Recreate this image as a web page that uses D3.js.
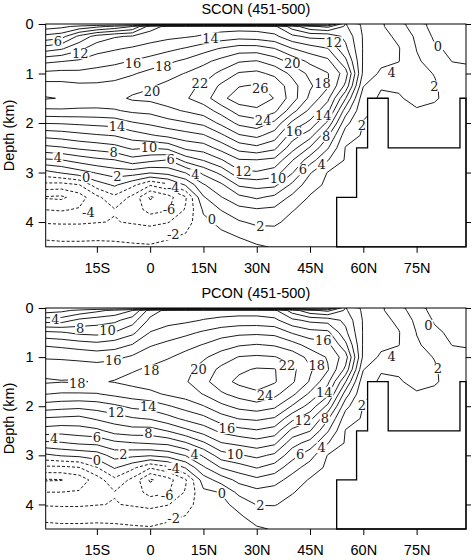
<!DOCTYPE html>
<meta charset="utf-8">
<script src="https://d3js.org/d3.v7.min.js"></script>
<style>
  body { margin: 0; background: #fff; }
  text { font-family: "Liberation Sans", Arial, sans-serif; }
</style>
<div id="chart"></div>
<script>

// grid of the streamfunction (Sv): one column per latitude, one value per depth
var lats = [-30, -25, -20, -15, -10, -5, 0, 5, 10, 15, 20, 25, 30, 35, 40, 45, 50, 55, 60, 65, 70, 75, 80, 85, 90];
var depths = [0, 0.05, 0.25, 0.5, 0.75, 1, 1.25, 1.5, 1.75, 2, 2.25, 2.5, 2.75, 3, 3.25, 3.5, 3.75, 4, 4.25, 4.5];
var levels = [-8, -6, -4, -2, 0, 2, 4, 6, 8, 10, 12, 14, 16, 18, 20, 22, 24, 26];

var sconCols = [
  [0, 1.0, 4.5, 9.0, 13.5, 16.5, 18.8, 20.2, 17.6, 14.1, 10.6, 7.4, 3.6, -0.8, -4.6, -8.2, -6.0, -4.2, -2.4, -1.5],
  [0, 1.5, 5.2, 9.8, 13.9, 16.7, 18.7, 19.9, 17.7, 14.2, 10.9, 7.8, 3.9, 0.2, -4.8, -8.4, -6.2, -4.3, -2.5, -1.6],
  [0, 2.5, 8.5, 11.5, 14.3, 16.6, 18.4, 19.6, 17.6, 14.4, 11.4, 8.4, 4.8, 1.2, -4.1, -7.0, -5.8, -4.3, -2.5, -1.6],
  [0, 3.5, 10.8, 13.2, 15.1, 16.8, 18.4, 19.4, 17.6, 14.6, 11.8, 8.8, 5.5, 2.2, -1.0, -4.5, -5.0, -4.1, -2.4, -1.6],
  [0, 4.5, 11.8, 13.8, 15.5, 17.2, 18.6, 19.4, 17.8, 14.8, 12.1, 9.3, 5.9, 3.0, 0.3, -2.5, -4.1, -3.9, -2.5, -1.6],
  [0, 6.0, 12.2, 14.3, 16.1, 17.8, 19.2, 20.3, 18.4, 15.8, 13.0, 10.4, 7.2, 3.0, -1.5, -4.5, -4.8, -4.2, -2.7, -1.7],
  [0, 11.0, 13.1, 14.8, 16.8, 18.6, 19.8, 20.5, 18.6, 16.4, 13.8, 10.1, 6.5, 2.2, -3.8, -8.3, -6.8, -4.6, -2.8, -1.8],
  [0, 12.6, 13.5, 15.5, 17.6, 19.3, 20.5, 21.0, 19.5, 17.2, 14.5, 10.6, 5.9, 2.8, -2.5, -6.8, -6.2, -4.1, -2.4, -1.5],
  [0, 12.8, 13.8, 16.2, 18.4, 20.1, 21.5, 21.8, 20.2, 17.8, 15.2, 12.5, 8.8, 4.1, 0.2, -4.2, -3.8, -2.9, -1.9, -1.2],
  [0, 13.0, 14.2, 17.2, 19.5, 21.0, 22.3, 23.0, 21.0, 18.5, 15.8, 13.0, 10.1, 6.5, 3.8, 1.8, 0.3, -0.5, -0.8, -0.7],
  [0, 13.0, 14.8, 18.2, 20.6, 22.5, 24.4, 25.5, 22.8, 20.5, 17.6, 14.8, 11.8, 8.6, 5.6, 3.9, 2.1, 0.5, -0.3, -0.6],
  [0, 13.0, 15.2, 19.0, 21.8, 24.2, 25.9, 27.0, 25.0, 22.5, 19.8, 16.8, 13.8, 11.5, 8.3, 5.5, 3.4, 1.8, 0.2, -0.6],
  [0, 13.0, 15.0, 19.0, 22.1, 24.5, 26.2, 27.5, 25.5, 23.2, 20.5, 17.5, 13.9, 11.8, 8.7, 6.3, 3.8, 2.4, 1.0, -0.25],
  [0, 12.5, 14.5, 18.1, 21.0, 23.5, 25.5, 25.9, 24.5, 21.5, 19.0, 16.5, 13.5, 11.0, 8.5, 5.5, 3.6, 2.3, 1.4, 0.15],
  [0, 9.0, 12.5, 16.1, 19.3, 21.5, 22.8, 23.0, 20.8, 17.5, 15.0, 12.8, 10.1, 8.2, 5.5, 3.5, 2.1, 1.5, 1.2, 1.0],
  [0, 6.5, 11.5, 15.0, 17.5, 19.5, 20.3, 19.5, 17.5, 15.5, 12.8, 9.8, 6.9, 4.2, 2.8, 1.8, 1.4, 1.2, 1.0, 0.9],
  [0, 5.5, 11.5, 14.1, 16.5, 18.1, 18.3, 16.5, 14.6, 11.5, 8.3, 6.2, 4.1, 1.9, 1.6, 1.4, 1.3, 1.2, 1.1, 1.0],
  [8.1, 8.3, 9.5, 10.5, 12.5, 15.0, 13.5, 10.1, 7.0, 4.6, 2.9, 1.9, 1.8, 1.7, 1.6, 1.5, 1.5, 1.5, 1.5, 1.5],
  [5.5, 5.6, 5.8, 5.8, 5.7, 5.5, 4.1, 2.6, 2.2, 1.95, 1.8, 1.7, 1.7, 1.7, 1.7, 1.7, 1.7, 1.7, 1.7, 1.7],
  [4.3, 4.3, 4.6, 4.8, 4.5, 3.6, 2.1, 1.8, 1.8, 1.8, 1.8, 1.8, 1.8, 1.8, 1.8, 1.8, 1.8, 1.8, 1.8, 1.8],
  [2.6, 2.7, 3.6, 4.1, 4.05, 3.3, 2.15, 1.9, 1.8, 1.7, 1.7, 1.6, 1.6, 1.6, 1.6, 1.6, 1.6, 1.6, 1.6, 1.6],
  [1.0, 1.1, 1.6, 1.95, 2.2, 2.4, 2.4, 2.3, 1.9, 1.7, 1.6, 1.6, 1.6, 1.6, 1.6, 1.6, 1.6, 1.6, 1.6, 1.6],
  [-0.8, -0.8, -0.3, 0.3, 1.4, 1.95, 2.15, 2.1, 1.8, 1.6, 1.5, 1.5, 1.5, 1.5, 1.5, 1.5, 1.5, 1.5, 1.5, 1.5],
  [-0.9, -0.9, -0.7, -0.4, -0.05, 0.8, 1.4, 1.7, 1.7, 1.6, 1.5, 1.5, 1.5, 1.5, 1.5, 1.5, 1.5, 1.5, 1.5, 1.5],
  [-0.9, -0.9, -0.8, -0.5, -0.2, 0.5, 1.2, 1.5, 1.5, 1.5, 1.5, 1.5, 1.5, 1.5, 1.5, 1.5, 1.5, 1.5, 1.5, 1.5]
];

var pconCols = [
  [0, 1.0, 5.0, 10.5, 13.8, 15.8, 17.2, 18.3, 16.1, 13.1, 9.8, 7.1, 3.5, -0.5, -4.5, -8.2, -6.0, -4.2, -2.4, -1.5],
  [0, 1.5, 5.0, 10.2, 13.5, 15.7, 17.2, 18.1, 15.8, 12.8, 9.6, 6.8, 3.8, 0.2, -4.5, -8.1, -6.0, -4.3, -2.5, -1.6],
  [0, 2.5, 6.5, 9.5, 13.1, 15.5, 17.1, 18.2, 15.8, 12.6, 9.4, 7.1, 4.3, 0.5, -4.1, -7.2, -5.8, -4.3, -2.5, -1.6],
  [0, 3.5, 7.1, 9.3, 12.7, 15.3, 16.9, 17.8, 15.9, 12.9, 10.3, 7.5, 4.5, 1.0, -2.1, -5.0, -4.8, -4.1, -2.4, -1.6],
  [0, 4.5, 7.5, 10.1, 13.1, 15.5, 17.3, 18.1, 16.5, 13.6, 11.0, 8.8, 5.5, 2.8, 0.2, -2.5, -4.1, -3.9, -2.5, -1.6],
  [0, 6.0, 9.1, 11.5, 14.1, 16.3, 17.8, 18.6, 17.0, 14.5, 11.8, 9.2, 5.9, 2.5, -1.5, -4.5, -4.8, -4.2, -2.7, -1.7],
  [0, 11.0, 12.5, 14.1, 15.8, 17.2, 18.3, 19.0, 17.5, 14.8, 12.2, 9.1, 6.2, 2.2, -3.8, -8.3, -6.8, -4.6, -2.8, -1.8],
  [0, 12.6, 13.3, 14.9, 16.5, 17.8, 19.1, 19.6, 18.3, 15.8, 13.3, 10.1, 6.5, 2.8, -2.5, -6.8, -6.2, -4.1, -2.4, -1.5],
  [0, 12.8, 13.6, 15.5, 17.3, 18.7, 19.4, 19.8, 18.9, 16.8, 14.5, 11.5, 7.8, 4.1, 0.2, -4.2, -3.8, -2.9, -1.9, -1.2],
  [0, 13.0, 14.1, 16.3, 18.1, 19.7, 20.8, 21.4, 20.1, 17.9, 15.4, 12.9, 9.7, 6.3, 3.7, 1.0, -0.4, -0.8, -0.9, -0.7],
  [0, 13.0, 14.5, 17.1, 19.1, 20.9, 22.5, 23.2, 21.7, 19.5, 17.1, 14.5, 11.9, 9.1, 6.1, 2.9, 0.1, -0.5, -0.6, -0.6],
  [0, 13.0, 14.8, 17.5, 19.8, 22.1, 23.6, 24.5, 22.8, 20.6, 18.1, 15.3, 12.5, 9.8, 7.1, 4.6, 2.6, 0.6, -0.3, -0.6],
  [0, 13.0, 14.8, 17.6, 20.1, 22.3, 24.2, 24.5, 23.8, 21.1, 18.4, 15.8, 13.1, 10.5, 8.1, 5.5, 3.4, 2.1, 0.8, -0.25],
  [0, 12.5, 14.5, 17.4, 19.8, 22.1, 24.1, 24.2, 22.6, 20.4, 17.8, 15.1, 12.4, 9.6, 7.1, 4.8, 3.1, 2.1, 1.1, 0.15],
  [0, 9.0, 12.5, 15.8, 18.8, 21.2, 22.5, 22.3, 20.5, 17.8, 14.6, 11.4, 8.8, 6.8, 4.8, 3.2, 2.1, 1.5, 1.2, 1.0],
  [0, 6.5, 11.5, 14.8, 17.2, 19.4, 20.3, 19.8, 17.6, 15.2, 12.6, 10.1, 7.2, 4.8, 3.1, 1.8, 1.4, 1.2, 1.0, 0.9],
  [0, 5.5, 11.2, 14.5, 16.6, 17.8, 18.2, 16.5, 14.6, 11.5, 8.3, 6.2, 4.1, 1.9, 1.6, 1.4, 1.3, 1.2, 1.1, 1.0],
  [8.1, 8.3, 9.5, 10.5, 12.5, 15.0, 13.5, 10.1, 7.0, 4.6, 2.9, 1.9, 1.8, 1.7, 1.6, 1.5, 1.5, 1.5, 1.5, 1.5],
  [5.5, 5.6, 5.8, 5.8, 5.7, 5.5, 4.1, 2.6, 2.2, 1.95, 1.8, 1.7, 1.7, 1.7, 1.7, 1.7, 1.7, 1.7, 1.7, 1.7],
  [4.3, 4.3, 4.6, 4.8, 4.5, 3.6, 2.1, 1.8, 1.8, 1.8, 1.8, 1.8, 1.8, 1.8, 1.8, 1.8, 1.8, 1.8, 1.8, 1.8],
  [2.6, 2.7, 3.6, 4.1, 4.05, 3.3, 2.15, 1.9, 1.8, 1.7, 1.7, 1.6, 1.6, 1.6, 1.6, 1.6, 1.6, 1.6, 1.6, 1.6],
  [0.9, 1.1, 1.5, 1.95, 2.2, 2.4, 2.4, 2.3, 1.9, 1.7, 1.6, 1.6, 1.6, 1.6, 1.6, 1.6, 1.6, 1.6, 1.6, 1.6],
  [-0.8, -0.8, -0.2, 0.4, 1.4, 1.95, 2.15, 2.1, 1.8, 1.6, 1.5, 1.5, 1.5, 1.5, 1.5, 1.5, 1.5, 1.5, 1.5, 1.5],
  [-0.9, -0.9, -0.7, -0.4, -0.05, 0.8, 1.4, 1.7, 1.7, 1.6, 1.5, 1.5, 1.5, 1.5, 1.5, 1.5, 1.5, 1.5, 1.5, 1.5],
  [-0.9, -0.9, -0.8, -0.5, -0.2, 0.5, 1.2, 1.5, 1.5, 1.5, 1.5, 1.5, 1.5, 1.5, 1.5, 1.5, 1.5, 1.5, 1.5, 1.5]
];

// contour labels: [latitude, depth (km), text]
var sconLabels = [
  [-26, 0.34, "6"], [-19.7, 0.59, "12"], [-4.8, 0.79, "16"], [3.7, 0.86, "18"], [17, 0.28, "14"],
  [0.5, 1.35, "20"], [14, 1.2, "22"], [31, 1.3, "26"], [40, 0.8, "20"], [51.7, 0.36, "12"],
  [48.5, 1.2, "18"], [31.8, 1.94, "24"], [40.5, 2.17, "16"], [48.7, 1.84, "14"], [49.5, 2.27, "8"],
  [-9.3, 2.06, "14"], [-10.3, 2.6, "8"], [-0.3, 2.5, "10"], [5.8, 2.74, "6"], [12.7, 3.04, "4"],
  [26.2, 2.98, "12"], [36, 3.12, "10"], [43, 2.94, "6"], [48.3, 2.84, "4"], [59.6, 2.04, "2"],
  [-26, 2.7, "4"], [-18, 3.1, "0"], [-9.2, 3.08, "2"], [6.5, 3.3, "-4"], [5.3, 3.75, "-6"],
  [6.5, 4.25, "-2"], [-17.4, 3.8, "-4"], [17.4, 3.95, "0"], [31, 4.09, "2"],
  [68, 0.97, "4"], [80, 1.25, "2"], [81, 0.46, "0"]
];

var pconLabels = [
  [-26.7, 0.24, "4"], [-19.7, 0.41, "8"], [-12, 0.45, "10"], [-10.4, 1.06, "16"], [0.3, 1.26, "18"],
  [13.6, 1.24, "20"], [-20.5, 1.53, "18"], [-9.6, 2.12, "12"], [-0.5, 2.0, "14"], [21.6, 2.45, "16"],
  [-27, 2.66, "4"], [-15, 2.63, "6"], [-0.5, 2.55, "8"], [23.9, 2.97, "10"], [-7.5, 2.97, "2"],
  [-15, 3.1, "0"], [12.5, 2.97, "4"], [6.6, 3.26, "-4"], [4.8, 3.82, "-6"], [6.6, 4.29, "-2"],
  [20.2, 3.77, "0"], [31, 4.02, "2"], [38.5, 1.16, "22"], [46.9, 1.16, "18"], [48.7, 0.65, "16"],
  [32.3, 1.77, "24"], [49, 1.71, "14"], [43, 2.29, "12"], [49.2, 2.25, "8"], [59.6, 1.98, "2"],
  [42.2, 2.97, "6"], [48.3, 2.84, "4"], [68, 0.99, "4"], [81, 1.23, "2"], [78.3, 0.35, "0"]
];

// sea floor steps in the north: edge latitudes and depth of the top of the land from that edge on
var landLat = [52.5, 58.1, 61.2, 67.0, 87.2];
var landTop = [3.5, 2.5, 1.5, 2.5, 1.5];

var xTicks = [-15, 0, 15, 30, 45, 60, 75];
var xTickText = ["15S", "0", "15N", "30N", "45N", "60N", "75N"];
var yTicks = [0, 1, 2, 3, 4];

var panels = [
  {title: "SCON (451-500)", cols: sconCols, labels: sconLabels, top: 24, bottom: 246.8, titleY: 14},
  {title: "PCON (451-500)", cols: pconCols, labels: pconLabels, top: 308, bottom: 529, titleY: 298}
];

var width = 474, height = 560;
var svg = d3.select("#chart").append("svg")
    .attr("width", width)
    .attr("height", height);

var x = d3.scaleLinear().domain([-29.4, 88.9]).range([45.7, 466]);
var n = lats.length, m = depths.length;

// contour grid coordinate -> lat / depth (value i sits at coordinate i + 0.5)
function gridPos(arr, c) {
  var t = c - 0.5;
  var k = Math.max(0, Math.min(arr.length - 2, Math.floor(t)));
  return arr[k] + (t - k) * (arr[k + 1] - arr[k]);
}

panels.forEach(function(p, pi) {
  var y = d3.scaleLinear().domain([0, 4.5]).range([p.top, p.bottom]);
  var g = svg.append("g");

  svg.append("clipPath").attr("id", "clip" + pi)
    .append("rect")
      .attr("x", x.range()[0]).attr("y", p.top)
      .attr("width", x.range()[1] - x.range()[0])
      .attr("height", p.bottom - p.top);

  var values = [];
  for (var j = 0; j < m; j++)
    for (var i = 0; i < n; i++) values.push(p.cols[i][j]);

  var contours = d3.contours().size([n, m]).thresholds(levels)(values);

  var proj = d3.geoTransform({
    point: function(px, py) { this.stream.point(x(gridPos(lats, px)), y(gridPos(depths, py))); }
  });
  var path = d3.geoPath(proj);

  g.append("g")
      .attr("clip-path", "url(#clip" + pi + ")")
    .selectAll("path")
    .data(contours)
    .join("path")
      .attr("d", path)
      .attr("fill", "none")
      .attr("stroke", "#111")
      .attr("stroke-width", 0.95)
      .attr("stroke-dasharray", function(d) { return d.value < 0 ? "3,2" : null; });

  // land
  var pts = [[landLat[0], 4.5]];
  landLat.forEach(function(l, k) {
    pts.push([l, k === 0 ? 4.5 : landTop[k - 1]]);
    pts.push([l, landTop[k]]);
  });
  pts.push([x.domain()[1], landTop[landTop.length - 1]]);
  pts.push([x.domain()[1], 4.5]);
  g.append("path")
      .attr("d", d3.line().x(function(d) { return x(d[0]); }).y(function(d) { return y(d[1]); })(pts) + "Z")
      .attr("fill", "#fff")
      .attr("stroke", "#000")
      .attr("stroke-width", 1.3);

  // contour labels
  var lg = g.append("g");
  p.labels.forEach(function(L) {
    var t = lg.append("text")
        .attr("x", x(L[0]))
        .attr("y", y(L[1]))
        .attr("dy", "0.36em")
        .attr("text-anchor", "middle")
        .style("font-family", "'DejaVu Serif', serif")
        .style("font-size", "13px")
        .attr("fill", "#222")
        .text(L[2]);
    var bb = t.node().getBBox();
    lg.insert("rect", function() { return t.node(); })
        .attr("x", bb.x - 1).attr("y", bb.y + 2)
        .attr("width", bb.width + 2).attr("height", bb.height - 4)
        .attr("fill", "#fff");
  });

  // frame
  g.append("rect")
      .attr("x", x.range()[0]).attr("y", p.top)
      .attr("width", x.range()[1] - x.range()[0])
      .attr("height", p.bottom - p.top)
      .attr("fill", "none")
      .attr("stroke", "#000")
      .attr("stroke-width", 1);

  // axes
  var ax = g.append("g")
      .attr("transform", "translate(0," + p.bottom + ")")
      .call(d3.axisBottom(x).tickValues(xTicks)
        .tickFormat(function(d, i) { return xTickText[i]; })
        .tickSize(6).tickPadding(9.5));
  var ay = g.append("g")
      .attr("transform", "translate(" + x.range()[0] + ",0)")
      .call(d3.axisLeft(y).tickValues(yTicks).tickFormat(d3.format("d")).tickSize(7).tickPadding(5));
  var ar = g.append("g")
      .attr("transform", "translate(" + x.range()[1] + ",0)")
      .call(d3.axisRight(y).tickValues(yTicks).tickFormat("").tickSize(5));
  [ax, ay, ar].forEach(function(a) {
    a.select(".domain").remove();
    a.selectAll("text").style("font-family", "'Liberation Sans', Arial, sans-serif")
      .style("font-size", "14.5px").attr("fill", "#000");
    a.selectAll("line").attr("stroke", "#000");
  });

  g.append("text")
      .attr("x", (x.range()[0] + x.range()[1]) / 2)
      .attr("y", p.titleY)
      .attr("text-anchor", "middle")
      .style("font-size", "14.5px")
      .text(p.title);

  g.append("text")
      .attr("transform", "translate(14," + (p.top + p.bottom) / 2 + ") rotate(-90)")
      .attr("text-anchor", "middle")
      .style("font-size", "14.5px")
      .text("Depth (km)");
});

</script>
